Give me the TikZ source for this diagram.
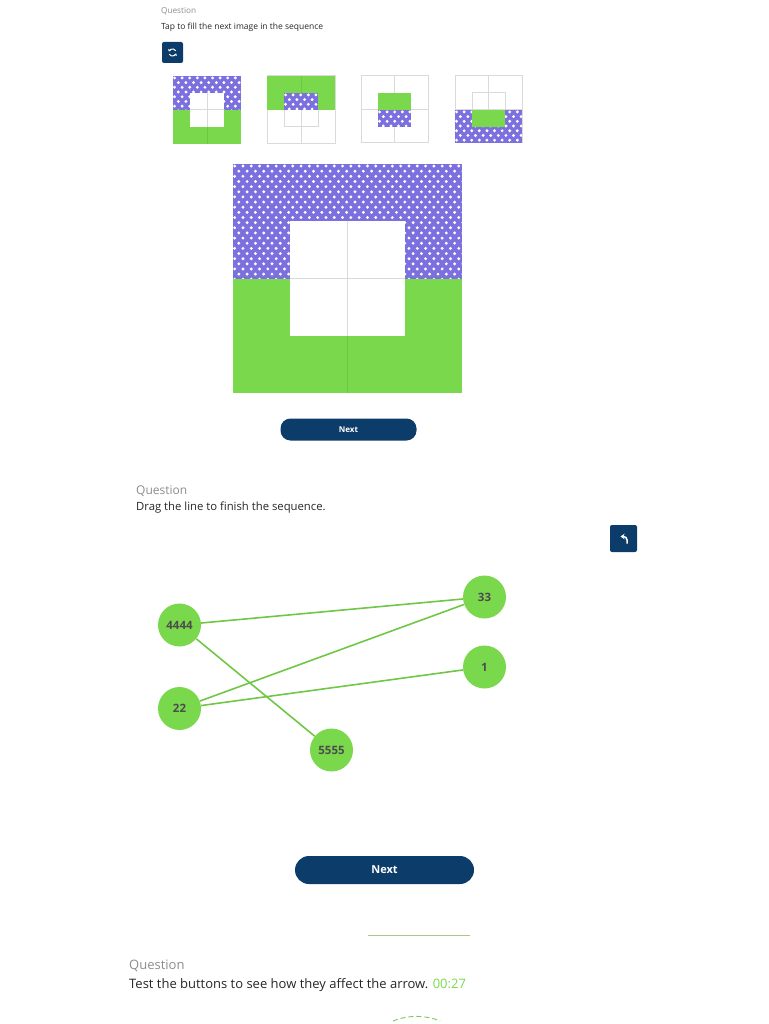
\documentclass[tikz,border=0pt]{standalone}
\usepackage{fontspec}
\usetikzlibrary{arrows.meta}
\setmainfont{Open Sans}
\definecolor{leaf}{HTML}{7AD84C}
\definecolor{violet}{HTML}{7C70DE}
\definecolor{navy}{HTML}{0C3C69}
\definecolor{gridgray}{HTML}{DADADA}
\tikzset{
	ball/.style={circle,fill=leaf,minimum size=43pt,inner sep=0pt,font=\fontsize{11.5}{13}\selectfont\bfseries,text=black!70},
	link/.style={draw=leaf!92!black,line width=1.6pt},
	pill/.style={rounded corners=#1,fill=navy,text=white,font=\bfseries},
	iconbox/.style={rounded corners=2pt,fill=navy,inner sep=0pt},
	asktext/.style={anchor=west,inner sep=0pt,text=black!85},
	asklabel/.style={anchor=west,inner sep=0pt,text=black!45},
	gridline/.style={draw=gridgray,line width=1pt},
	seam/.style={draw=leaf!92!black,line width=.6pt}
}
% dotted violet rectangle: x0,y0,x1,y1,spacing
\newcommand{\dotbox}[5]{
	\fill[violet] (#1,#2) rectangle (#3,#4);
	\begin{scope}
		\clip (#1,#2) rectangle (#3,#4);
		\pgfmathsetmacro{\nx}{int((#3-#1)/#5)+1}
		\pgfmathsetmacro{\ny}{int((#4-#2)/(#5*.62))+1}
		\foreach \i in {0,...,\nx} {
			\foreach \j in {0,...,\ny} {
				\fill[white] ({#1+(\i+.5*mod(\j,2)+.2)*#5},{#2+(\j+.4)*#5*.62}) circle (1.6pt);
			}
		}
	\end{scope}
}
% grid of a tile: x0,y0,x1,y1
\newcommand{\tilegrid}[4]{
	\draw[gridline] (#1,#2) rectangle (#3,#4);
	\draw[gridline] ({(#1+#3)/2},#2) -- ({(#1+#3)/2},#4);
	\draw[gridline] (#1,{(#2+#4)/2}) -- (#3,{(#2+#4)/2});
}
\begin{document}
\begin{tikzpicture}[x=1pt,y=-1pt]
	\useasboundingbox (0,0) rectangle (768,1024);
	\clip (0,0) rectangle (768,1024);

	% first question
	\node[asklabel,font=\fontsize{8.2}{10}\selectfont] (askone) at (161,11.5) {Question};
	\node[asktext,font=\fontsize{8.5}{10}\selectfont] (tapone) at (161,27) {Tap to fill the next image in the sequence};
	\node[iconbox,minimum size=21pt] (refresh) at (172.5,52.5) {};
	\draw[white,line width=1pt,-{Stealth[length=2.2pt,width=3.2pt]}] (refresh.center) ++(30:3.6pt) arc (30:165:3.6pt);
	\draw[white,line width=1pt,-{Stealth[length=2.2pt,width=3.2pt]}] (refresh.center) ++(210:3.6pt) arc (210:345:3.6pt);

	% tile one
	\dotbox{173}{76}{241}{110}{7.6}
	\fill[leaf] (173,110) rectangle (241,144);
	\fill[white] (190,93) rectangle (224,127);
	\draw[gridline] (207,93) -- (207,127);
	\draw[gridline] (190,110) -- (224,110);
	\draw[seam] (207,127) -- (207,144);

	% tile two
	\tilegrid{267}{76}{335}{144}
	\draw[gridline] (284,93) rectangle (318,127);
	\fill[leaf] (267,76) rectangle (335,110);
	\dotbox{284}{93}{318}{110}{7.6}
	\draw[seam] (301,76) -- (301,93);

	% tile three
	\tilegrid{361}{76}{428}{143}
	\fill[leaf] (378,93) rectangle (411,110);
	\dotbox{378}{110}{411}{127}{7.6}

	% tile four
	\tilegrid{455}{76}{522}{143}
	\draw[gridline] (472,93) rectangle (505,127);
	\dotbox{455}{110}{522}{143}{7.6}
	\fill[leaf] (472,110) rectangle (505,127);

	% big tile
	\dotbox{233}{164}{462}{278.5}{8.3}
	\fill[leaf] (233,278.5) rectangle (462,393);
	\fill[white] (290,221) rectangle (405,335.5);
	\draw[gridline] (347.5,221) -- (347.5,335.5);
	\draw[gridline] (290,278.5) -- (405,278.5);
	\draw[seam] (347.5,335.5) -- (347.5,393);

	\node[pill=10pt,minimum width=136pt,minimum height=22pt,inner sep=0pt,font=\fontsize{8}{10}\selectfont\bfseries] (nextone) at (348.5,429.5) {Next};

	% second question
	\node[asklabel,font=\fontsize{12}{14}\selectfont] (asktwo) at (136,491.5) {Question};
	\node[asktext,font=\fontsize{11.3}{13}\selectfont] (dragtwo) at (136,508) {Drag the line to finish the sequence.};
	\node[iconbox,minimum size=27pt] (undo) at (623.5,538.5) {};
	\draw[white,line width=1.5pt,-{Stealth[length=4pt,width=5.5pt]}] (undo.center) ++(3.5pt,-5pt) -- ++(0,3.5pt) arc (0:90:3.5pt) -- ++(-3pt,0);

	\node[ball] (nfour) at (179.5,625) {4444};
	\node[ball] (nthree) at (484.5,597) {33};
	\node[ball] (none) at (484.5,667) {1};
	\node[ball] (ntwo) at (179.5,708.5) {22};
	\node[ball] (nfive) at (331.5,750) {5555};
	\draw[link] (nfour) -- (nthree);
	\draw[link] (nfour) -- (nfive);
	\draw[link] (ntwo) -- (nthree);
	\draw[link] (ntwo) -- (none);

	\node[pill=14pt,minimum width=179pt,minimum height=28pt,inner sep=0pt,font=\fontsize{11}{13}\selectfont\bfseries] (nexttwo) at (384.5,870) {Next};

	% third question
	\coordinate (ruleleft) at (368,935);
	\coordinate (ruleright) at (470,935);
	\draw[leaf!60!gray!70,line width=.8pt] (ruleleft) -- (ruleright);
	\node[asklabel,font=\fontsize{13}{15}\selectfont] (askthree) at (129,966) {Question};
	\node[asktext,font=\fontsize{13}{15}\selectfont] (testthree) at (129,985) {Test the buttons to see how they affect the arrow. \textcolor{leaf}{00:27}};
	\draw[leaf!80!gray,line width=.9pt,dash pattern=on 5pt off 3pt] (393,1021) arc (248:292:63);
\end{tikzpicture}
\end{document}
